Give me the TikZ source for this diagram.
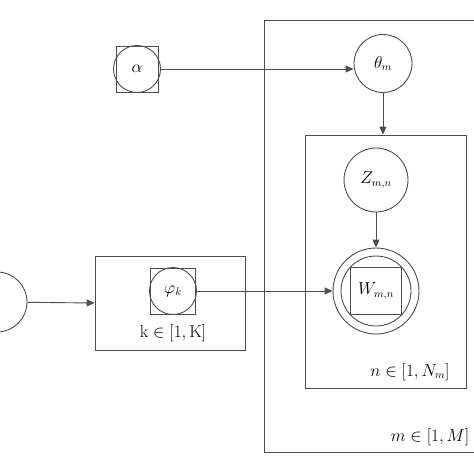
\documentclass[tikz,border=0pt]{standalone}
\usetikzlibrary{arrows.meta}
\definecolor{linegray}{HTML}{4D4D4D}
\begin{document}
\begin{tikzpicture}[x=1pt, y=-1pt, line width=0.9pt, font=\fontsize{16}{19}\selectfont,
  var/.style={draw=linegray, circle, inner sep=0pt},
  box/.style={draw=linegray, inner sep=0pt},
  plate/.style={draw=linegray, inner sep=0pt},
  arr/.style={draw=linegray, -{Triangle[length=8pt, width=7pt]}}]
  \useasboundingbox (0,0) rectangle (474,474);
  \clip (0,0) rectangle (474,474);

  \node[plate, minimum width=226pt, minimum height=432pt] (mplate) at (377,236) {};
  \node[plate, minimum width=161pt, minimum height=253pt] (nplate) at (385.5,261.5) {};
  \node[plate, minimum width=150pt, minimum height=94pt] (kplate) at (170,303) {};

  \node[var, minimum size=47pt] (alpha) at (137,69) {$\alpha$};
  \node[box, minimum width=42pt, minimum height=46pt] (alphabox) at (alpha) {};
  \node[var, minimum size=58pt] (theta) at (383,63.5) {$\theta_m$};
  \node[var, minimum size=64pt] (z) at (376,180) {$Z_{m,n}$};
  \node[var, minimum size=86pt] (w) at (376,291) {};
  \node[var, minimum size=70pt] (win) at (w) {};
  \node[box, minimum width=51pt, minimum height=47pt] (wbox) at (w) {$W_{m,n}$};
  \node[var, minimum size=47pt] (phi) at (173,291) {$\varphi_k$};
  \node[box, minimum width=45pt, minimum height=46pt] (phibox) at (phi) {};
  \node[var, minimum size=60pt] (beta) at (-3,302) {};

  \node (mlabel) at (430,437) {$m \in [1, M]$};
  \node (nlabel) at (410,372) {$n \in [1, N_m]$};
  \node (klabel) at (173,333) {$\mathrm{k} \in [1, \mathrm{K}]$};

  \draw[arr] (alpha) -- (alpha -| theta.west);
  \draw[arr] (theta) -- (theta |- nplate.north);
  \draw[arr] (z) -- (w);
  \draw[arr] (phi) -- (w);
  \draw[arr] (beta) -- (kplate.west);
\end{tikzpicture}
\end{document}
